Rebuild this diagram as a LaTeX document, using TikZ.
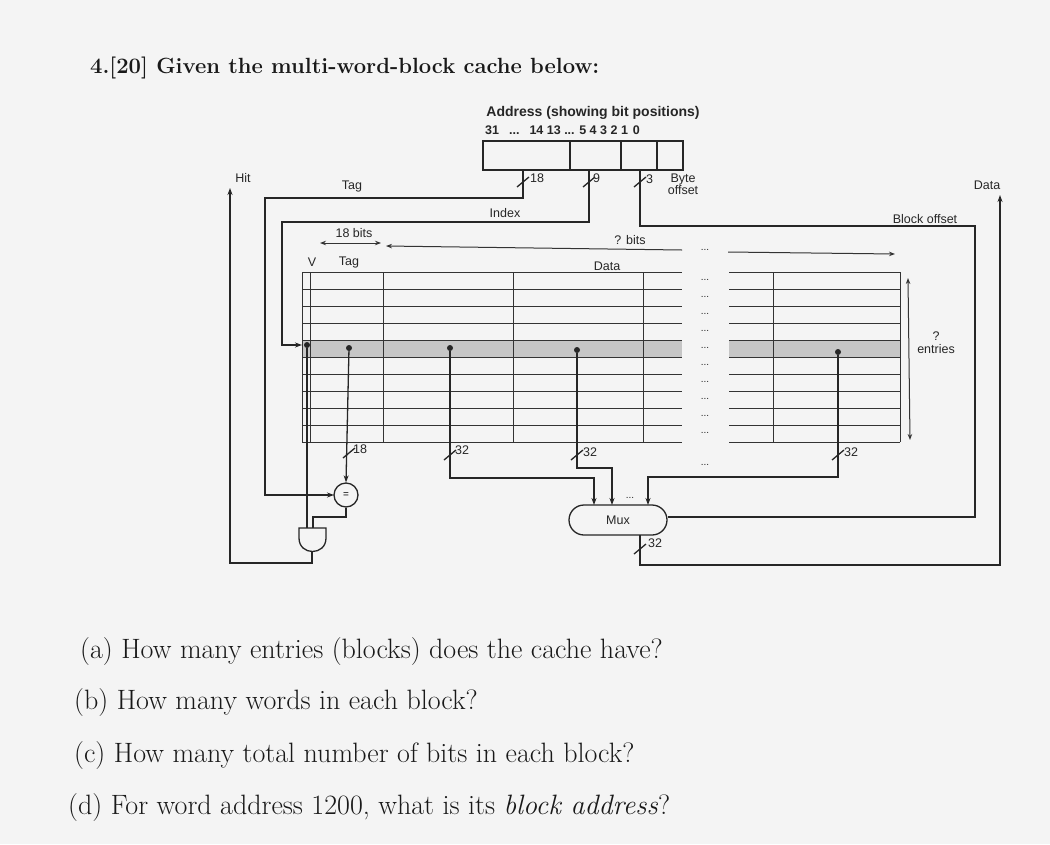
\documentclass[tikz,border=0pt]{standalone}
\usepackage{fontspec}
\setsansfont{Liberation Sans}
\usetikzlibrary{arrows.meta,shapes.misc}
\tikzset{
  wire/.style={line width=1.3pt,draw=black!85},
  thin/.style={line width=1pt,draw=black!80},
  lab/.style={font=\sffamily\fontsize{12.5}{13}\selectfont,text=black!85,inner sep=1pt},
  q/.style={font=\fontsize{28}{30}\selectfont,anchor=west,text=black!90,inner sep=0pt},
  dotf/.style={circle,fill=black!85,inner sep=0pt,minimum size=6pt},
  arr/.style={-{Stealth[length=7pt,width=5pt]}},
  tdots/.style={lab,font=\sffamily\fontsize{10}{10}\selectfont},
}
\newcommand\wslash[2]{\draw[wire] ({#1-6},{#2+5}) -- ({#1+6},{#2-5});}
\begin{document}
\begin{tikzpicture}[x=1pt,y=-1pt]
\fill[gray!9] (0,0) rectangle (1050,844);
\useasboundingbox (0,0) rectangle (1050,844);
% title
\node[q,font=\bfseries\fontsize{22}{24}\selectfont] (title) at (90,68) {4.[20] Given the multi-word-block cache below:};
% address
\node[lab,font=\sffamily\bfseries\fontsize{14}{15}\selectfont] (addr) at (593,113) {Address (showing bit positions)};
\node[lab,font=\sffamily\bfseries\fontsize{12.5}{13}\selectfont,anchor=west] (bits) at (484,130) {31\hspace{10pt}...\hspace{10pt}14 13 ... 5 4 3 2 1\hspace{5pt}0};
\draw[wire] (483,141) rectangle (683,170);
\foreach \x in {570,621,657} \draw[wire] (\x,141) -- (\x,170);
% tag wire
\coordinate (eqin) at (334,495);
\draw[wire,arr] (523,170) -- (523,198) -- (265,198) -- (265,495) -- (eqin);
\wslash{523}{182}
\node[lab,anchor=west] at (529,178) {18};
\node[lab] at (352,186) {Tag};
% index wire
\draw[wire,arr] (589,170) -- (589,222) -- (282,222) -- (282,345) -- (302,345);
\wslash{589}{182}
\node[lab,anchor=west] at (592,178) {9};
\node[lab] at (505,213) {Index};
% byte offset & block offset
\draw[wire] (640,170) -- (640,226) -- (975,226) -- (975,517) -- (668,517);
\wslash{640}{182}
\node[lab,anchor=west] at (645,179) {3};
\node[lab,align=center,anchor=north,font=\sffamily\fontsize{12.5}{12}\selectfont] at (683,173) {Byte\\offset};
\node[lab] at (925,219) {Block offset};
% data out
\draw[wire,arr] (640,535) -- (640,565) -- (1000,565) -- (1000,195);
\wslash{640}{549}
\node[lab,anchor=west] at (647,543) {32};
\node[lab] at (987,185) {Data};
% hit
\draw[wire,arr] (312,552) -- (312,563) -- (230,563) -- (230,188);
\node[lab] at (243,178) {Hit};
% width arrows
\draw[thin,{Stealth[length=6pt]}-{Stealth[length=6pt]}] (320,243) -- (381,243);
\node[lab] at (354,233) {18 bits};
\draw[thin,{Stealth[length=6pt]}-] (386,246) -- (682,250);
\draw[thin,-{Stealth[length=6pt]}] (728,252) -- (895,254);
\node[tdots] at (705,250) {...};
\node[lab] at (630,240) {? bits};
\node[lab] at (312,262) {V};
\node[lab] at (349,262) {Tag};
\node[lab] at (607,266) {Data};
% tables
\fill[gray!45] (302,340) rectangle (682,357);
\fill[gray!45] (729,340) rectangle (900,357);
\foreach \i in {0,...,10}{
  \pgfmathsetmacro\yy{272+17*\i}
  \draw[thin] (302,\yy) -- (682,\yy);
  \draw[thin] (729,\yy) -- (900,\yy);
}
\foreach \i in {0,...,9}{
  \pgfmathsetmacro\yy{280+17*\i}
  \node[tdots] at (705,\yy) {...};
}
\node[tdots] at (705,465) {...};
\foreach \x in {302,310,383,513,643} \draw[thin] (\x,272) -- (\x,442);
\draw[thin] (773,272) -- (773,442);
\draw[thin] (900,272) -- (900,442);
% entries arrow
\draw[thin,{Stealth[length=6pt]}-{Stealth[length=6pt]}] (908,278) -- (910,440);
\node[lab,align=center] at (936,343) {?\\entries};
% V dot and AND
\node[dotf] (vd) at (307,345) {};
\draw[wire] (vd) -- (307,528);
% comparator
\node[circle,draw=black!85,line width=1.3pt,minimum size=24pt,inner sep=0pt,font=\sffamily\fontsize{10}{10}\selectfont] (eq) at (346,495) {=};
\node[dotf] (td) at (349,348) {};
\draw[wire,arr] (td) -- (eq.north);
\wslash{349}{453}
\node[lab,anchor=west] at (352,449) {18};
\draw[wire] (eq.south) -- (346,517) -- (313,517) -- (313,528);
\draw[wire,fill=gray!9] (299,528) -- (326,528) -- (326,538) .. controls (326,556) and (299,556) .. (299,538) -- cycle;
% mux
\node[draw=black!85,line width=1.3pt,rounded rectangle,minimum width=100pt,minimum height=30pt,lab] (mux) at (618,520) {Mux};
\node[dotf] (d1) at (450,348) {};
\draw[wire,arr] (d1) -- (450,478) -- (594,478) -- (594,505);
\wslash{450}{455}
\node[lab,anchor=west] at (454,450) {32};
\node[dotf] (d2) at (577,350) {};
\draw[wire,arr] (d2) -- (577,468) -- (612,468) -- (612,505);
\wslash{577}{455}
\node[lab,anchor=west] at (582,452) {32};
\node[dotf] (d3) at (838,352) {};
\draw[wire,arr] (d3) -- (838,477) -- (648,477) -- (648,505);
\wslash{838}{455}
\node[lab,anchor=west] at (843,452) {32};
\node[tdots] at (630,498) {...};
% questions
\node[q] (qa) at (80,652) {(a) How many entries (blocks) does the cache have?};
\node[q] (qb) at (74,703) {(b) How many words in each block?};
\node[q] (qc) at (74,756) {(c) How many total number of bits in each block?};
\node[q] (qd) at (68,808) {(d) For word address 1200, what is its \textit{block address}?};
\end{tikzpicture}
\end{document}
